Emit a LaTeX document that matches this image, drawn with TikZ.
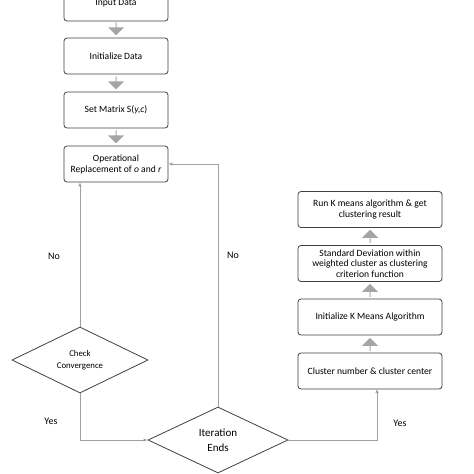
\documentclass[tikz,border=0pt]{standalone}
\usepackage{fontspec}
\setmainfont{Carlito}
\usetikzlibrary{shapes.geometric,shapes.arrows,arrows.meta}
\definecolor{linegray}{HTML}{A0A0A0}
\definecolor{boxedge}{HTML}{404040}
\definecolor{arrowfill}{HTML}{A5A5A5}
\begin{document}
\begin{tikzpicture}[x=1pt,y=-1pt,
  procbox/.style={draw=boxedge,line width=0.8pt,rounded corners=3pt,fill=white,
    minimum width=104pt,minimum height=36pt,align=center,font=\fontsize{9.6}{11}\selectfont,inner sep=1pt},
  rbox/.style={procbox,minimum width=144pt},
  decision/.style={draw=boxedge,line width=0.8pt,diamond,fill=white,align=center,inner sep=0pt},
  blockarrow/.style={single arrow,fill=arrowfill,draw=none,minimum height=13pt,minimum width=16pt,
    single arrow head extend=3pt,inner sep=0pt},
  conn/.style={draw=linegray,line width=1pt,-{Latex[length=4pt,width=3.5pt]}},
  lbl/.style={font=\fontsize{10}{12}\selectfont}
]
\useasboundingbox (0,0) rectangle (474,474);
\clip (0,0) rectangle (474,474);
\fill[white] (0,0) rectangle (474,474);

% left column
\node[procbox] (input) at (116,3) {Input Data};
\node[procbox] (init) at (116,56) {Initialize Data};
\node[procbox] (setm) at (116,110) {Set Matrix S(\textit{y,c})};
\node[procbox] (oper) at (116,164) {Operational\\Replacement of \textit{o} and \textit{r}};

\node[blockarrow,rotate=-90] (a1) at (116,28.5) {};
\node[blockarrow,rotate=-90] (a2) at (116,82.5) {};
\node[blockarrow,rotate=-90] (a3) at (116,136.5) {};

% right column
\node[rbox] (run) at (370,209.5) {Run K means algorithm \& get\\clustering result};
\node[rbox,inner ysep=0pt,font=\fontsize{9.6}{10.6}\selectfont] (std) at (370,263.5) {Standard Deviation within\\weighted cluster as clustering\\criterion function};
\node[rbox] (ikm) at (370,317) {Initialize K Means Algorithm};
\node[rbox] (clu) at (370,371) {Cluster number \& cluster center};

\node[blockarrow,rotate=90] (b1) at (370,236.5) {};
\node[blockarrow,rotate=90] (b2) at (370,290.5) {};
\node[blockarrow,rotate=90] (b3) at (370,344.5) {};

% decisions
\node[decision,minimum width=136pt,minimum height=66pt,font=\fontsize{8.8}{12}\selectfont] (check) at (80,360) {Check\\Convergence};
\node[decision,minimum width=140pt,minimum height=66pt,font=\fontsize{11}{15}\selectfont] (iter) at (218,440) {Iteration\\Ends};

% connectors
\coordinate (cluin) at (377,389);
\draw[conn] (check.north) -- (check.north |- oper.south);
\draw[conn] (check.south) |- (iter.west);
\draw[conn] (iter.north) |- (oper.east);
\draw[conn] (iter.east) -| (cluin);

% labels
\node[lbl] (no1) at (54,256) {No};
\node[lbl] (no2) at (233,255) {No};
\node[lbl] (yes1) at (51,421) {Yes};
\node[lbl] (yes2) at (400,423) {Yes};
\end{tikzpicture}
\end{document}
